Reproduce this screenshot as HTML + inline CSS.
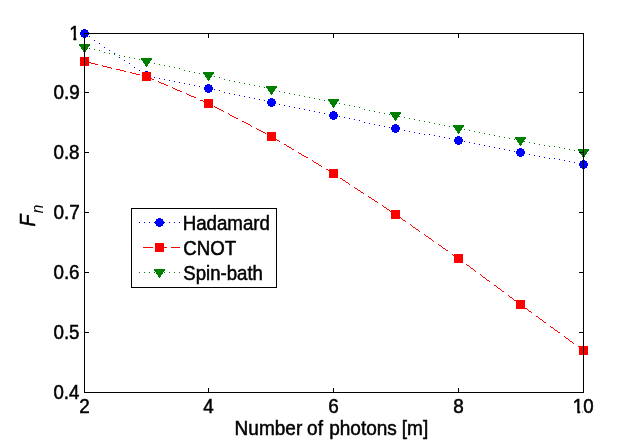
<!DOCTYPE html>
<html><head><meta charset="utf-8"><title>Fn vs number of photons</title>
<style>
html,body{margin:0;padding:0;background:#fff;}
svg{display:block}
text{font-family:"Liberation Sans",Arial,Helvetica,sans-serif;font-size:19.5px;fill:#000;stroke:#000;stroke-width:0.5px}
</style></head><body>
<svg width="644" height="441" viewBox="0 0 644 441">
<defs>
<clipPath id="one-y"><path d="M60 20H76.4V41H73.4V37.7H60z"/></clipPath>
<clipPath id="one-x"><path d="M560 390H580.2V414H577.3V410.7H560z M582.5 390H600V416H582.5z"/></clipPath>
</defs>
<rect width="644" height="441" fill="#fff"/>
<g shape-rendering="crispEdges">
<path d="M84 33h1v1h-1zM89 36h1v1h-1zM94 40h1v1h-1zM99 43h1v1h-1zM104 47h1v1h-1zM109 50h1v1h-1zM114 53h1v1h-1zM119 57h1v1h-1zM124 60h1v1h-1zM129 63h1v1h-1zM134 67h1v1h-1zM139 70h1v1h-1zM144 74h1v1h-1zM149 76h1v1h-1zM154 77h1v1h-1zM159 78h1v1h-1zM164 79h1v1h-1zM169 80h1v1h-1zM174 81h1v1h-1zM179 82h1v1h-1zM184 83h1v1h-1zM189 84h1v1h-1zM194 85h1v1h-1zM199 86h1v1h-1zM204 87h1v1h-1zM209 88h1v1h-1zM214 89h1v1h-1zM219 90h1v1h-1zM224 92h1v1h-1zM229 93h1v1h-1zM234 94h1v1h-1zM239 95h1v1h-1zM244 96h1v1h-1zM249 97h1v1h-1zM254 98h1v1h-1zM259 99h1v1h-1zM264 100h1v1h-1zM269 102h1v1h-1zM274 103h1v1h-1zM279 104h1v1h-1zM284 105h1v1h-1zM289 106h1v1h-1zM294 107h1v1h-1zM299 108h1v1h-1zM304 109h1v1h-1zM309 110h1v1h-1zM314 111h1v1h-1zM319 112h1v1h-1zM324 113h1v1h-1zM329 114h1v1h-1zM334 115h1v1h-1zM339 116h1v1h-1zM344 117h1v1h-1zM349 118h1v1h-1zM354 119h1v1h-1zM359 120h1v1h-1zM364 122h1v1h-1zM369 123h1v1h-1zM374 124h1v1h-1zM379 125h1v1h-1zM384 126h1v1h-1zM389 127h1v1h-1zM394 128h1v1h-1zM399 129h1v1h-1zM404 130h1v1h-1zM409 131h1v1h-1zM414 132h1v1h-1zM419 133h1v1h-1zM424 134h1v1h-1zM429 134h1v1h-1zM434 135h1v1h-1zM439 136h1v1h-1zM444 137h1v1h-1zM449 138h1v1h-1zM454 139h1v1h-1zM459 140h1v1h-1zM464 141h1v1h-1zM469 142h1v1h-1zM474 143h1v1h-1zM479 144h1v1h-1zM484 145h1v1h-1zM489 146h1v1h-1zM494 147h1v1h-1zM499 148h1v1h-1zM504 149h1v1h-1zM509 150h1v1h-1zM514 151h1v1h-1zM519 152h1v1h-1zM524 153h1v1h-1zM529 154h1v1h-1zM534 155h1v1h-1zM539 156h1v1h-1zM544 157h1v1h-1zM549 158h1v1h-1zM554 158h1v1h-1zM559 159h1v1h-1zM564 160h1v1h-1zM569 161h1v1h-1zM574 162h1v1h-1zM579 163h1v1h-1z" fill="#0000ff"/>
<path d="M83 29h3v1h-3zM81 30h7v1h-7zM81 31h7v1h-7zM80 32h9v1h-9zM80 33h9v1h-9zM80 34h9v1h-9zM81 35h7v1h-7zM81 36h7v1h-7zM83 37h3v1h-3z" fill="#0000ff"/>
<path d="M145 71h3v1h-3zM143 72h7v1h-7zM143 73h7v1h-7zM142 74h9v1h-9zM142 75h9v1h-9zM142 76h9v1h-9zM143 77h7v1h-7zM143 78h7v1h-7zM145 79h3v1h-3z" fill="#0000ff"/>
<path d="M207 84h3v1h-3zM205 85h7v1h-7zM205 86h7v1h-7zM204 87h9v1h-9zM204 88h9v1h-9zM204 89h9v1h-9zM205 90h7v1h-7zM205 91h7v1h-7zM207 92h3v1h-3z" fill="#0000ff"/>
<path d="M270 98h3v1h-3zM268 99h7v1h-7zM268 100h7v1h-7zM267 101h9v1h-9zM267 102h9v1h-9zM267 103h9v1h-9zM268 104h7v1h-7zM268 105h7v1h-7zM270 106h3v1h-3z" fill="#0000ff"/>
<path d="M332 111h3v1h-3zM330 112h7v1h-7zM330 113h7v1h-7zM329 114h9v1h-9zM329 115h9v1h-9zM329 116h9v1h-9zM330 117h7v1h-7zM330 118h7v1h-7zM332 119h3v1h-3z" fill="#0000ff"/>
<path d="M394 124h3v1h-3zM392 125h7v1h-7zM392 126h7v1h-7zM391 127h9v1h-9zM391 128h9v1h-9zM391 129h9v1h-9zM392 130h7v1h-7zM392 131h7v1h-7zM394 132h3v1h-3z" fill="#0000ff"/>
<path d="M457 136h3v1h-3zM455 137h7v1h-7zM455 138h7v1h-7zM454 139h9v1h-9zM454 140h9v1h-9zM454 141h9v1h-9zM455 142h7v1h-7zM455 143h7v1h-7zM457 144h3v1h-3z" fill="#0000ff"/>
<path d="M519 148h3v1h-3zM517 149h7v1h-7zM517 150h7v1h-7zM516 151h9v1h-9zM516 152h9v1h-9zM516 153h9v1h-9zM517 154h7v1h-7zM517 155h7v1h-7zM519 156h3v1h-3z" fill="#0000ff"/>
<path d="M582 160h3v1h-3zM580 161h7v1h-7zM580 162h7v1h-7zM579 163h9v1h-9zM579 164h9v1h-9zM579 165h9v1h-9zM580 166h7v1h-7zM580 167h7v1h-7zM582 168h3v1h-3z" fill="#0000ff"/>
<path d="M88 62h3v1h-3zM91 63h4v1h-4zM95 64h3v1h-3zM102 65h1v1h-1zM103 66h4v1h-4zM107 67h4v1h-4zM111 68h1v1h-1zM116 69h4v1h-4zM120 70h4v1h-4zM124 71h2v1h-2zM130 72h2v1h-2zM132 73h4v1h-4zM136 74h4v1h-4zM144 76h4v1h-4zM148 77h2v1h-2zM150 78h2v1h-2zM152 79h2v1h-2zM158 81h1v1h-1zM159 82h2v1h-2zM161 83h3v1h-3zM164 84h2v1h-2zM166 85h2v1h-2zM172 87h1v1h-1zM173 88h2v1h-2zM175 89h2v1h-2zM177 90h3v1h-3zM180 91h2v1h-2zM186 93h1v1h-1zM187 94h2v1h-2zM189 95h2v1h-2zM191 96h3v1h-3zM194 97h2v1h-2zM200 100h3v1h-3zM203 101h2v1h-2zM205 102h2v1h-2zM207 103h2v1h-2zM209 104h1v1h-1zM214 106h1v1h-1zM215 107h2v1h-2zM217 108h2v1h-2zM219 109h2v1h-2zM221 110h2v1h-2zM223 111h1v1h-1zM228 113h1v1h-1zM229 114h1v1h-1zM230 115h2v1h-2zM232 116h2v1h-2zM234 117h2v1h-2zM236 118h2v1h-2zM242 121h2v1h-2zM244 122h2v1h-2zM246 123h2v1h-2zM248 124h2v1h-2zM250 125h1v1h-1zM251 126h1v1h-1zM256 128h1v1h-1zM257 129h2v1h-2zM259 130h2v1h-2zM261 131h2v1h-2zM263 132h2v1h-2zM265 133h1v1h-1zM270 135h1v1h-1zM271 136h1v1h-1zM272 137h2v1h-2zM274 138h2v1h-2zM276 139h1v1h-1zM277 140h2v1h-2zM279 141h1v1h-1zM284 144h2v1h-2zM286 145h1v1h-1zM287 146h2v1h-2zM289 147h2v1h-2zM291 148h1v1h-1zM292 149h2v1h-2zM298 152h1v1h-1zM299 153h2v1h-2zM301 154h1v1h-1zM302 155h2v1h-2zM304 156h2v1h-2zM306 157h2v1h-2zM312 160h1v1h-1zM313 161h1v1h-1zM314 162h2v1h-2zM316 163h2v1h-2zM318 164h1v1h-1zM319 165h2v1h-2zM321 166h1v1h-1zM326 169h2v1h-2zM328 170h1v1h-1zM329 171h2v1h-2zM331 172h2v1h-2zM333 173h1v1h-1zM334 174h2v1h-2zM340 178h2v1h-2zM342 179h1v1h-1zM343 180h2v1h-2zM345 181h1v1h-1zM346 182h2v1h-2zM348 183h1v1h-1zM349 184h1v1h-1zM354 187h1v1h-1zM355 188h2v1h-2zM357 189h1v1h-1zM358 190h2v1h-2zM360 191h1v1h-1zM361 192h2v1h-2zM363 193h1v1h-1zM368 196h1v1h-1zM369 197h2v1h-2zM371 198h1v1h-1zM372 199h2v1h-2zM374 200h1v1h-1zM375 201h2v1h-2zM377 202h1v1h-1zM382 205h1v1h-1zM383 206h1v1h-1zM384 207h2v1h-2zM386 208h1v1h-1zM387 209h2v1h-2zM389 210h1v1h-1zM390 211h2v1h-2zM396 215h2v1h-2zM398 216h1v1h-1zM399 217h2v1h-2zM401 218h1v1h-1zM402 219h1v1h-1zM403 220h2v1h-2zM405 221h1v1h-1zM410 224h1v1h-1zM411 225h1v1h-1zM412 226h1v1h-1zM413 227h2v1h-2zM415 228h1v1h-1zM416 229h2v1h-2zM418 230h1v1h-1zM419 231h1v1h-1zM424 234h1v1h-1zM425 235h1v1h-1zM426 236h2v1h-2zM428 237h1v1h-1zM429 238h2v1h-2zM431 239h1v1h-1zM432 240h1v1h-1zM433 241h1v1h-1zM438 244h1v1h-1zM439 245h2v1h-2zM441 246h1v1h-1zM442 247h1v1h-1zM443 248h2v1h-2zM445 249h1v1h-1zM446 250h2v1h-2zM452 254h1v1h-1zM453 255h2v1h-2zM455 256h1v1h-1zM456 257h2v1h-2zM458 258h1v1h-1zM459 259h2v1h-2zM461 260h1v1h-1zM466 264h1v1h-1zM467 265h2v1h-2zM469 266h1v1h-1zM470 267h1v1h-1zM471 268h2v1h-2zM473 269h1v1h-1zM474 270h1v1h-1zM475 271h1v1h-1zM480 274h1v1h-1zM481 275h1v1h-1zM482 276h1v1h-1zM483 277h2v1h-2zM485 278h1v1h-1zM486 279h1v1h-1zM487 280h2v1h-2zM489 281h1v1h-1zM494 285h2v1h-2zM496 286h1v1h-1zM497 287h1v1h-1zM498 288h2v1h-2zM500 289h1v1h-1zM501 290h1v1h-1zM502 291h2v1h-2zM508 295h1v1h-1zM509 296h1v1h-1zM510 297h2v1h-2zM512 298h1v1h-1zM513 299h1v1h-1zM514 300h2v1h-2zM516 301h1v1h-1zM517 302h1v1h-1zM522 305h1v1h-1zM523 306h1v1h-1zM524 307h1v1h-1zM525 308h2v1h-2zM527 309h1v1h-1zM528 310h1v1h-1zM529 311h2v1h-2zM531 312h1v1h-1zM536 316h2v1h-2zM538 317h1v1h-1zM539 318h1v1h-1zM540 319h2v1h-2zM542 320h1v1h-1zM543 321h1v1h-1zM544 322h2v1h-2zM550 326h1v1h-1zM551 327h2v1h-2zM553 328h1v1h-1zM554 329h1v1h-1zM555 330h2v1h-2zM557 331h1v1h-1zM558 332h2v1h-2zM564 336h1v1h-1zM565 337h1v1h-1zM566 338h2v1h-2zM568 339h1v1h-1zM569 340h1v1h-1zM570 341h2v1h-2zM572 342h1v1h-1zM573 343h1v1h-1zM578 346h1v1h-1zM579 347h1v1h-1zM580 348h1v1h-1zM581 349h2v1h-2zM583 350h1v1h-1z" fill="#ff0000"/>
<rect x="80" y="57" width="9" height="9" fill="#ff0000"/>
<rect x="142" y="72" width="9" height="9" fill="#ff0000"/>
<rect x="204" y="99" width="9" height="9" fill="#ff0000"/>
<rect x="267" y="132" width="9" height="9" fill="#ff0000"/>
<rect x="329" y="169" width="9" height="9" fill="#ff0000"/>
<rect x="391" y="210" width="9" height="9" fill="#ff0000"/>
<rect x="454" y="254" width="9" height="9" fill="#ff0000"/>
<rect x="516" y="300" width="9" height="9" fill="#ff0000"/>
<rect x="579" y="346" width="9" height="9" fill="#ff0000"/>
<path d="M84 47h1v1h-1zM89 48h1v1h-1zM94 49h1v1h-1zM99 50h1v1h-1zM104 52h1v1h-1zM109 53h1v1h-1zM114 54h1v1h-1zM119 55h1v1h-1zM124 56h1v1h-1zM129 57h1v1h-1zM134 58h1v1h-1zM139 59h1v1h-1zM144 61h1v1h-1zM149 62h1v1h-1zM154 63h1v1h-1zM159 64h1v1h-1zM164 65h1v1h-1zM169 66h1v1h-1zM174 67h1v1h-1zM179 68h1v1h-1zM184 70h1v1h-1zM189 71h1v1h-1zM194 72h1v1h-1zM199 73h1v1h-1zM204 74h1v1h-1zM209 75h1v1h-1zM214 76h1v1h-1zM219 77h1v1h-1zM224 79h1v1h-1zM229 80h1v1h-1zM234 81h1v1h-1zM239 82h1v1h-1zM244 83h1v1h-1zM249 84h1v1h-1zM254 85h1v1h-1zM259 86h1v1h-1zM264 87h1v1h-1zM269 89h1v1h-1zM274 90h1v1h-1zM279 91h1v1h-1zM284 92h1v1h-1zM289 93h1v1h-1zM294 94h1v1h-1zM299 95h1v1h-1zM304 96h1v1h-1zM309 97h1v1h-1zM314 98h1v1h-1zM319 99h1v1h-1zM324 100h1v1h-1zM329 101h1v1h-1zM334 102h1v1h-1zM339 103h1v1h-1zM344 104h1v1h-1zM349 105h1v1h-1zM354 106h1v1h-1zM359 107h1v1h-1zM364 109h1v1h-1zM369 110h1v1h-1zM374 111h1v1h-1zM379 112h1v1h-1zM384 113h1v1h-1zM389 114h1v1h-1zM394 115h1v1h-1zM399 116h1v1h-1zM404 117h1v1h-1zM409 118h1v1h-1zM414 119h1v1h-1zM419 120h1v1h-1zM424 121h1v1h-1zM429 122h1v1h-1zM434 123h1v1h-1zM439 124h1v1h-1zM444 125h1v1h-1zM449 126h1v1h-1zM454 127h1v1h-1zM459 128h1v1h-1zM464 129h1v1h-1zM469 130h1v1h-1zM474 131h1v1h-1zM479 132h1v1h-1zM484 133h1v1h-1zM489 134h1v1h-1zM494 135h1v1h-1zM499 136h1v1h-1zM504 137h1v1h-1zM509 138h1v1h-1zM514 139h1v1h-1zM519 140h1v1h-1zM524 141h1v1h-1zM529 142h1v1h-1zM534 143h1v1h-1zM539 144h1v1h-1zM544 145h1v1h-1zM549 146h1v1h-1zM554 146h1v1h-1zM559 147h1v1h-1zM564 148h1v1h-1zM569 149h1v1h-1zM574 150h1v1h-1zM579 151h1v1h-1z" fill="#007f00"/>
<path d="M79 44h11v1h-11zM79 45h11v1h-11zM80 46h9v1h-9zM81 47h7v1h-7zM81 48h7v1h-7zM82 49h5v1h-5zM83 50h3v1h-3zM83 51h3v1h-3zM84 52h1v1h-1z" fill="#007f00"/>
<path d="M141 58h11v1h-11zM141 59h11v1h-11zM142 60h9v1h-9zM143 61h7v1h-7zM143 62h7v1h-7zM144 63h5v1h-5zM145 64h3v1h-3zM145 65h3v1h-3zM146 66h1v1h-1z" fill="#007f00"/>
<path d="M203 72h11v1h-11zM203 73h11v1h-11zM204 74h9v1h-9zM205 75h7v1h-7zM205 76h7v1h-7zM206 77h5v1h-5zM207 78h3v1h-3zM207 79h3v1h-3zM208 80h1v1h-1z" fill="#007f00"/>
<path d="M266 86h11v1h-11zM266 87h11v1h-11zM267 88h9v1h-9zM268 89h7v1h-7zM268 90h7v1h-7zM269 91h5v1h-5zM270 92h3v1h-3zM270 93h3v1h-3zM271 94h1v1h-1z" fill="#007f00"/>
<path d="M328 99h11v1h-11zM328 100h11v1h-11zM329 101h9v1h-9zM330 102h7v1h-7zM330 103h7v1h-7zM331 104h5v1h-5zM332 105h3v1h-3zM332 106h3v1h-3zM333 107h1v1h-1z" fill="#007f00"/>
<path d="M390 112h11v1h-11zM390 113h11v1h-11zM391 114h9v1h-9zM392 115h7v1h-7zM392 116h7v1h-7zM393 117h5v1h-5zM394 118h3v1h-3zM394 119h3v1h-3zM395 120h1v1h-1z" fill="#007f00"/>
<path d="M453 125h11v1h-11zM453 126h11v1h-11zM454 127h9v1h-9zM455 128h7v1h-7zM455 129h7v1h-7zM456 130h5v1h-5zM457 131h3v1h-3zM457 132h3v1h-3zM458 133h1v1h-1z" fill="#007f00"/>
<path d="M515 137h11v1h-11zM515 138h11v1h-11zM516 139h9v1h-9zM517 140h7v1h-7zM517 141h7v1h-7zM518 142h5v1h-5zM519 143h3v1h-3zM519 144h3v1h-3zM520 145h1v1h-1z" fill="#007f00"/>
<path d="M578 149h11v1h-11zM578 150h11v1h-11zM579 151h9v1h-9zM580 152h7v1h-7zM580 153h7v1h-7zM581 154h5v1h-5zM582 155h3v1h-3zM582 156h3v1h-3zM583 157h1v1h-1z" fill="#007f00"/>
<path d="M84 33h500v1h-500z M84 392h500v1h-500z M84 33h1v360h-1z M583 33h1v360h-1z" fill="#000"/>
<path d="M208 388h1v4h-1z M208 34h1v4h-1zM333 388h1v4h-1z M333 34h1v4h-1zM458 388h1v4h-1z M458 34h1v4h-1zM85 92h4v1h-4z M579 92h4v1h-4zM85 152h4v1h-4z M579 152h4v1h-4zM85 212h4v1h-4z M579 212h4v1h-4zM85 272h4v1h-4z M579 272h4v1h-4zM85 332h4v1h-4z M579 332h4v1h-4z" fill="#000"/>
</g>
<g shape-rendering="crispEdges">
<rect x="131" y="208" width="146" height="80" fill="#fff"/>
<path d="M131 208h146v1h-146z M131 287h146v1h-146z M131 208h1v80h-1z M276 208h1v80h-1z" fill="#000"/>
<path d="M139 222h1v1h-1zM144 222h1v1h-1zM149 222h1v1h-1zM154 222h1v1h-1zM159 222h1v1h-1zM164 222h1v1h-1zM169 222h1v1h-1zM174 222h1v1h-1zM179 222h1v1h-1z" fill="#0000ff"/>
<path d="M158 218h3v1h-3zM156 219h7v1h-7zM156 220h7v1h-7zM155 221h9v1h-9zM155 222h9v1h-9zM155 223h9v1h-9zM156 224h7v1h-7zM156 225h7v1h-7zM158 226h3v1h-3z" fill="#0000ff"/>
<path d="M143 247h10v1h-10zM157 247h10v1h-10zM171 247h9v1h-9z" fill="#ff0000"/>
<rect x="155" y="243" width="9" height="9" fill="#ff0000"/>
<path d="M139 272h1v1h-1zM144 272h1v1h-1zM149 272h1v1h-1zM154 272h1v1h-1zM159 272h1v1h-1zM164 272h1v1h-1zM169 272h1v1h-1zM174 272h1v1h-1zM179 272h1v1h-1z" fill="#007f00"/>
<path d="M154 269h11v1h-11zM154 270h11v1h-11zM155 271h9v1h-9zM156 272h7v1h-7zM156 273h7v1h-7zM157 274h5v1h-5zM158 275h3v1h-3zM158 276h3v1h-3zM159 277h1v1h-1z" fill="#007f00"/>
</g>
<g>
<g clip-path="url(#one-y)"><text transform="translate(69.17,40) scale(0.9685,1.0000)">1</text></g>
<text transform="translate(53.43,99) scale(0.9685,1.0000)">0.9</text>
<text transform="translate(53.43,159) scale(0.9647,1.0000)">0.8</text>
<text transform="translate(53.42,219) scale(0.9723,1.0000)">0.7</text>
<text transform="translate(53.43,279) scale(0.9647,1.0000)">0.6</text>
<text transform="translate(53.43,339) scale(0.9647,1.0000)">0.5</text>
<text transform="translate(53.43,399) scale(0.9572,1.0000)">0.4</text>
<text transform="translate(79.22,413) scale(0.9685,1.0000)">2</text>
<text transform="translate(203.32,413) scale(0.9685,1.0000)">4</text>
<text transform="translate(328.17,413) scale(0.9685,1.0000)">6</text>
<text transform="translate(453.27,413) scale(0.9685,1.0000)">8</text>
<g clip-path="url(#one-x)"><text transform="translate(572.76,413) scale(0.9588,1.0000)">10</text></g>
<text transform="translate(0,435) scale(0.9754,1.02)"><tspan x="240.55">Number</tspan> <tspan x="314.85">of</tspan> <tspan x="337.52">photons</tspan> <tspan x="411.95">[m]</tspan></text>
<text transform="translate(35,226.6) rotate(-90) scale(1,1.119)" font-style="italic">F<tspan x="13.4" dy="7.2" font-size="15.5" stroke-width="0">n</tspan></text>
<text transform="translate(182.67,230) scale(0.9592,1.0200)">Hadamard</text>
<text transform="translate(183.24,255) scale(0.9591,1.0200)">CNOT</text>
<text transform="translate(183.34,280) scale(0.9545,1.0200)">Spin-bath</text>
</g>
</svg>
</body></html>
